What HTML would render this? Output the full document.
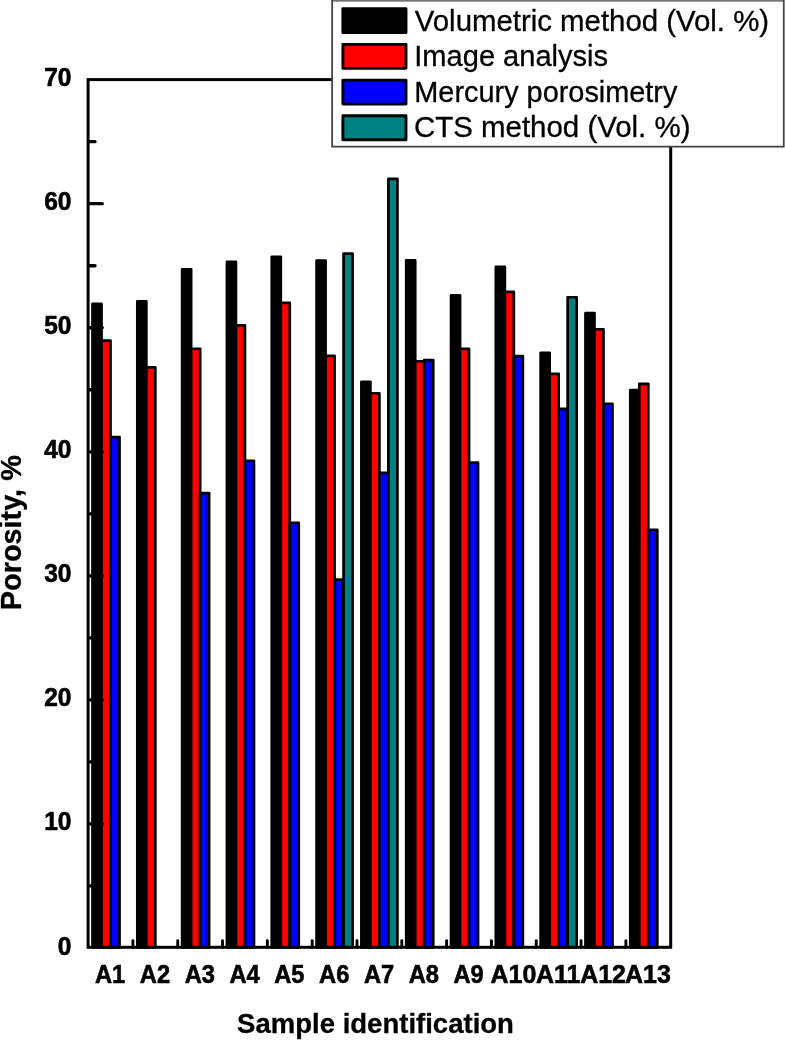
<!DOCTYPE html>
<html><head><meta charset="utf-8"><title>Porosity chart</title>
<style>html,body{margin:0;padding:0;background:#fff}svg{display:block}</style></head>
<body>
<svg width="785" height="1040" viewBox="0 0 785 1040">
<rect width="785" height="1040" fill="#ffffff"/>
<g stroke="#000" stroke-width="2.7" stroke-linejoin="round">
<rect x="92.51" y="303.95" width="9.0" height="643.35" fill="#000000"/>
<rect x="137.32" y="301.45" width="9.0" height="645.85" fill="#000000"/>
<rect x="182.14" y="269.25" width="9.0" height="678.05" fill="#000000"/>
<rect x="226.95" y="261.75" width="9.0" height="685.55" fill="#000000"/>
<rect x="271.77" y="256.85" width="9.0" height="690.45" fill="#000000"/>
<rect x="316.58" y="260.55" width="9.0" height="686.75" fill="#000000"/>
<rect x="361.40" y="381.95" width="9.0" height="565.35" fill="#000000"/>
<rect x="406.22" y="260.45" width="9.0" height="686.85" fill="#000000"/>
<rect x="451.03" y="295.35" width="9.0" height="651.95" fill="#000000"/>
<rect x="495.85" y="266.85" width="9.0" height="680.45" fill="#000000"/>
<rect x="540.66" y="352.75" width="9.0" height="594.55" fill="#000000"/>
<rect x="585.48" y="313.15" width="9.0" height="634.15" fill="#000000"/>
<rect x="630.29" y="390.15" width="9.0" height="557.15" fill="#000000"/>
<rect x="101.51" y="340.65" width="9.0" height="606.65" fill="#ff0000"/>
<rect x="146.32" y="367.35" width="9.0" height="579.95" fill="#ff0000"/>
<rect x="191.14" y="348.75" width="9.0" height="598.55" fill="#ff0000"/>
<rect x="235.95" y="325.35" width="9.0" height="621.95" fill="#ff0000"/>
<rect x="280.77" y="302.95" width="9.0" height="644.35" fill="#ff0000"/>
<rect x="325.58" y="355.95" width="9.0" height="591.35" fill="#ff0000"/>
<rect x="370.40" y="393.25" width="9.0" height="554.05" fill="#ff0000"/>
<rect x="415.22" y="361.25" width="9.0" height="586.05" fill="#ff0000"/>
<rect x="460.03" y="348.95" width="9.0" height="598.35" fill="#ff0000"/>
<rect x="504.85" y="291.95" width="9.0" height="655.35" fill="#ff0000"/>
<rect x="549.66" y="373.85" width="9.0" height="573.45" fill="#ff0000"/>
<rect x="594.48" y="329.25" width="9.0" height="618.05" fill="#ff0000"/>
<rect x="639.29" y="383.85" width="9.0" height="563.45" fill="#ff0000"/>
<rect x="110.51" y="437.05" width="9.0" height="510.25" fill="#0000ff"/>
<rect x="200.14" y="493.05" width="9.0" height="454.25" fill="#0000ff"/>
<rect x="244.95" y="460.75" width="9.0" height="486.55" fill="#0000ff"/>
<rect x="289.77" y="522.85" width="9.0" height="424.45" fill="#0000ff"/>
<rect x="334.58" y="579.55" width="9.0" height="367.75" fill="#0000ff"/>
<rect x="379.40" y="472.95" width="9.0" height="474.35" fill="#0000ff"/>
<rect x="424.22" y="360.05" width="9.0" height="587.25" fill="#0000ff"/>
<rect x="469.03" y="462.65" width="9.0" height="484.65" fill="#0000ff"/>
<rect x="513.85" y="356.15" width="9.0" height="591.15" fill="#0000ff"/>
<rect x="558.66" y="408.85" width="9.0" height="538.45" fill="#0000ff"/>
<rect x="603.48" y="403.75" width="9.0" height="543.55" fill="#0000ff"/>
<rect x="648.29" y="529.85" width="9.0" height="417.45" fill="#0000ff"/>
<rect x="343.58" y="253.55" width="9.0" height="693.75" fill="#008080"/>
<rect x="388.40" y="178.85" width="9.0" height="768.45" fill="#008080"/>
<rect x="567.66" y="297.25" width="9.0" height="650.05" fill="#008080"/>
</g>
<g stroke="#000" stroke-width="3.0" fill="none" stroke-linecap="butt">
<rect x="88.1" y="79.6" width="582.60" height="867.70"/>
</g>
<g stroke="#000" stroke-width="3.3" fill="none" stroke-linecap="round">
<line x1="89.6" y1="885.88" x2="95.00" y2="885.88"/>
<line x1="89.6" y1="823.87" x2="102.30" y2="823.87"/>
<line x1="89.6" y1="761.86" x2="95.00" y2="761.86"/>
<line x1="89.6" y1="699.84" x2="102.30" y2="699.84"/>
<line x1="89.6" y1="637.83" x2="95.00" y2="637.83"/>
<line x1="89.6" y1="575.81" x2="102.30" y2="575.81"/>
<line x1="89.6" y1="513.79" x2="95.00" y2="513.79"/>
<line x1="89.6" y1="451.78" x2="102.30" y2="451.78"/>
<line x1="89.6" y1="389.76" x2="95.00" y2="389.76"/>
<line x1="89.6" y1="327.75" x2="102.30" y2="327.75"/>
<line x1="89.6" y1="265.73" x2="95.00" y2="265.73"/>
<line x1="89.6" y1="203.72" x2="102.30" y2="203.72"/>
<line x1="89.6" y1="141.70" x2="95.00" y2="141.70"/>
<line x1="132.92" y1="947.3" x2="132.92" y2="940.70" stroke-width="2.9"/>
<line x1="177.73" y1="947.3" x2="177.73" y2="940.70" stroke-width="2.9"/>
<line x1="222.55" y1="947.3" x2="222.55" y2="940.70" stroke-width="2.9"/>
<line x1="267.36" y1="947.3" x2="267.36" y2="940.70" stroke-width="2.9"/>
<line x1="312.18" y1="947.3" x2="312.18" y2="940.70" stroke-width="2.9"/>
<line x1="356.99" y1="947.3" x2="356.99" y2="940.70" stroke-width="2.9"/>
<line x1="401.81" y1="947.3" x2="401.81" y2="940.70" stroke-width="2.9"/>
<line x1="446.62" y1="947.3" x2="446.62" y2="940.70" stroke-width="2.9"/>
<line x1="491.44" y1="947.3" x2="491.44" y2="940.70" stroke-width="2.9"/>
<line x1="536.25" y1="947.3" x2="536.25" y2="940.70" stroke-width="2.9"/>
<line x1="581.07" y1="947.3" x2="581.07" y2="940.70" stroke-width="2.9"/>
<line x1="625.88" y1="947.3" x2="625.88" y2="940.70" stroke-width="2.9"/>
</g>
<g font-family="'Liberation Sans', Arial, sans-serif" font-weight="bold" fill="#000">
<text transform="translate(71.4,954.50) scale(0.98,1)" font-size="25.0" stroke="#000" stroke-width="0.6" text-anchor="end">0</text>
<text transform="translate(71.4,830.47) scale(0.98,1)" font-size="25.0" stroke="#000" stroke-width="0.6" text-anchor="end">10</text>
<text transform="translate(71.4,706.44) scale(0.98,1)" font-size="25.0" stroke="#000" stroke-width="0.6" text-anchor="end">20</text>
<text transform="translate(71.4,582.41) scale(0.98,1)" font-size="25.0" stroke="#000" stroke-width="0.6" text-anchor="end">30</text>
<text transform="translate(71.4,458.38) scale(0.98,1)" font-size="25.0" stroke="#000" stroke-width="0.6" text-anchor="end">40</text>
<text transform="translate(71.4,334.35) scale(0.98,1)" font-size="25.0" stroke="#000" stroke-width="0.6" text-anchor="end">50</text>
<text transform="translate(71.4,210.32) scale(0.98,1)" font-size="25.0" stroke="#000" stroke-width="0.6" text-anchor="end">60</text>
<text transform="translate(71.4,86.29) scale(0.98,1)" font-size="25.0" stroke="#000" stroke-width="0.6" text-anchor="end">70</text>
<text transform="translate(110.11,982.65) scale(0.91,1)" font-size="26.0" stroke="#000" stroke-width="0.6" text-anchor="middle">A1</text>
<text transform="translate(154.92,982.65) scale(0.91,1)" font-size="26.0" stroke="#000" stroke-width="0.6" text-anchor="middle">A2</text>
<text transform="translate(199.74,982.65) scale(0.91,1)" font-size="26.0" stroke="#000" stroke-width="0.6" text-anchor="middle">A3</text>
<text transform="translate(244.55,982.65) scale(0.91,1)" font-size="26.0" stroke="#000" stroke-width="0.6" text-anchor="middle">A4</text>
<text transform="translate(289.37,982.65) scale(0.91,1)" font-size="26.0" stroke="#000" stroke-width="0.6" text-anchor="middle">A5</text>
<text transform="translate(334.18,982.65) scale(0.91,1)" font-size="26.0" stroke="#000" stroke-width="0.6" text-anchor="middle">A6</text>
<text transform="translate(379.00,982.65) scale(0.91,1)" font-size="26.0" stroke="#000" stroke-width="0.6" text-anchor="middle">A7</text>
<text transform="translate(423.82,982.65) scale(0.91,1)" font-size="26.0" stroke="#000" stroke-width="0.6" text-anchor="middle">A8</text>
<text transform="translate(468.63,982.65) scale(0.91,1)" font-size="26.0" stroke="#000" stroke-width="0.6" text-anchor="middle">A9</text>
<text transform="translate(513.45,982.65) scale(0.96,1)" font-size="26.0" stroke="#000" stroke-width="0.6" text-anchor="middle">A10</text>
<text transform="translate(558.26,982.65) scale(0.96,1)" font-size="26.0" stroke="#000" stroke-width="0.6" text-anchor="middle">A11</text>
<text transform="translate(603.08,982.65) scale(0.96,1)" font-size="26.0" stroke="#000" stroke-width="0.6" text-anchor="middle">A12</text>
<text transform="translate(647.89,982.65) scale(0.96,1)" font-size="26.0" stroke="#000" stroke-width="0.6" text-anchor="middle">A13</text>
<text transform="translate(375.5,1032.7) scale(1.012,1)" font-size="27.2" stroke="#000" stroke-width="0.3" text-anchor="middle">Sample identification</text>
<text transform="translate(21.1,532.7) rotate(-90) scale(0.992,1)" font-size="29.1" stroke="#000" stroke-width="0.3" text-anchor="middle">Porosity, %</text>
</g>
<rect x="332.15" y="0.7" width="451.6" height="145.95" fill="#fff" stroke="#444444" stroke-width="1.8"/>
<line x1="333.1" y1="0.75" x2="782.8" y2="0.75" stroke="#ffffff" stroke-opacity="0.25" stroke-width="1.9"/>
<g font-family="'Liberation Sans', Arial, sans-serif" font-size="29.3" fill="#000" stroke="#000" stroke-width="0.3">
<rect x="342.9" y="8.65" width="63.1" height="24" fill="#000000" stroke="#000" stroke-width="2.9" stroke-linejoin="round"/>
<text transform="translate(414.8,30.80) scale(1.003,1)">Volumetric method (Vol. %)</text>
<rect x="342.9" y="44.37" width="63.1" height="24" fill="#ff0000" stroke="#000" stroke-width="2.9" stroke-linejoin="round"/>
<text transform="translate(414.3,66.30) scale(0.992,1)">Image analysis</text>
<rect x="342.9" y="80.09" width="63.1" height="24" fill="#0000ff" stroke="#000" stroke-width="2.9" stroke-linejoin="round"/>
<text transform="translate(414.3,101.80) scale(0.986,1)">Mercury porosimetry</text>
<rect x="342.9" y="115.81" width="63.1" height="24" fill="#008080" stroke="#000" stroke-width="2.9" stroke-linejoin="round"/>
<text transform="translate(414.0,137.30) scale(1.005,1)">CTS method (Vol. %)</text>
</g>
</svg>
</body></html>
